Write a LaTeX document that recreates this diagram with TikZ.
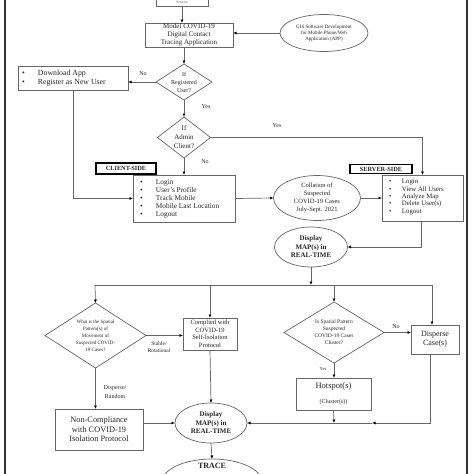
\documentclass[tikz,border=0pt]{standalone}
\usepackage{fontspec}
\setmainfont{Liberation Serif}
\usetikzlibrary{shapes.geometric,arrows.meta}
\newcommand{\fs}[2]{\fontsize{#1}{#2}\selectfont}
\newcommand{\bl}[1]{\makebox[#1][l]{\textbullet}}
\begin{document}
\begin{tikzpicture}[x=1pt,y=-1pt,
  every node/.style={inner sep=0pt, outer sep=0pt, text=black!85},
  box/.style={draw=black!60, line width=0.7pt, rectangle},
  dia/.style={draw=black!60, line width=0.7pt, diamond},
  ell/.style={draw=black!60, line width=0.7pt, ellipse},
  conn/.style={draw=black!60, line width=0.7pt},
  arr/.style={conn, -{Latex[length=3.5pt,width=3pt,color=black]}},
  lbl/.style={font=\fs{6}{7}, align=center},
  sidelbl/.style={draw=black, line width=1.5pt, font=\bfseries\fs{6.3}{7}, minimum height=10pt, inner xsep=3pt, fill=white}
]
\useasboundingbox (0,0) rectangle (474,474);
\clip (0,0) rectangle (474,474);
\fill[white] (0,0) rectangle (474,474);
% frame
\draw[black!80, line width=2pt] (5,-10) -- (5,490);
\draw[black!80, line width=2pt] (467,-10) -- (467,490);

% nodes
\node[box, minimum width=52, minimum height=20] (src) at (182,-4) {};
\node[font=\fs{4}{4}, text=black!60] (srct) at (182,2.6) {Source};
\node[box, minimum width=88, minimum height=24, align=center, font=\fs{7}{7.8}] (model) at (189,35) {Model COVID-19\\Digital Contact\\Tracing Application};
\node[ell, minimum width=88, minimum height=37, label={[align=center, font=\fs{5}{6}]center:GIS Software Development\\for Mobile Phone/Web\\Application (APP)}] (gis) at (324,33) {};
\node[dia, minimum width=56, minimum height=36, label={[align=center, font=\fs{6}{8}]center:If\\Registered\\User?}] (reg) at (184,82) {};
\node[box, minimum width=110, minimum height=24] (dl) at (73,78) {};
\node[anchor=west, align=left, font=\fs{7.8}{8.5}] (dlt) at (22,78) {\bl{16pt}Download App\\\bl{16pt}Register as New User};
\node[dia, minimum width=53, minimum height=41, label={[align=center, font=\fs{7}{9}]center:If\\Admin\\Client?}] (admin) at (184,137.5) {};
\node[box, minimum width=102, minimum height=47] (client) at (184,198.5) {};
\node[anchor=west, align=left, font=\fs{7.3}{8}] (clientt) at (140,199) {\bl{16pt}Login\\\bl{16pt}User's Profile\\\bl{16pt}Track Mobile\\\bl{16pt}Mobile Last Location\\\bl{16pt}Logout};
\node[sidelbl, minimum width=60pt, minimum height=11pt] (cs) at (126,168.5) {CLIENT-SIDE};
\node[ell, minimum width=87, minimum height=45, label={[align=center, font=\fs{6.5}{8}]center:Collation of\\Suspected\\COVID-19 Cases\\July-Sept. 2021}] (coll) at (317,198) {};
\node[box, minimum width=81, minimum height=46] (srv) at (422.5,198) {};
\node[anchor=west, align=left, font=\fs{6.8}{7.3}] (srvt) at (389,197) {\bl{13pt}Login\\\bl{13pt}View All Users\\\bl{13pt}Analyze Map\\\bl{13pt}Delete User(s)\\\bl{13pt}Logout};
\node[sidelbl, minimum width=62pt, minimum height=9pt] (ss) at (381,169) {SERVER-SIDE};
\node[ell, minimum width=73, minimum height=40, label={[align=center, font=\bfseries\fs{7}{8.5}]center:Display\\MAP(s) in\\REAL-TIME}] (disp1) at (311,247) {};

\node[dia, minimum width=101, minimum height=65, label={[align=center, font=\fs{5}{7}]center:What is the Spatial\\Pattern(s) of\\Movement of\\Suspected COVID-\\19 Cases?}] (what) at (95.5,335.5) {};
\node[box, minimum width=54, minimum height=32, align=center, font=\fs{6.5}{7.5}] (comp) at (210,334) {Complied with\\COVID-19\\Self-Isolation\\Protocol};
\node[box, minimum width=88, minimum height=41, align=center, font=\fs{8.3}{9.5}] (nonc) at (99,429.5) {Non-Compliance\\with COVID-19\\Isolation Protocol};
\node[ell, minimum width=72, minimum height=40, label={[align=center, font=\bfseries\fs{7}{8.5}]center:Display\\MAP(s) in\\REAL-TIME}] (disp2) at (211,423) {};
\node[ell, minimum width=100, minimum height=46] (trace) at (212,482) {};
\node[font=\bfseries\fs{8}{9}] (tracet) at (212,466) {TRACE};
\node[dia, minimum width=100, minimum height=61, label={[align=center, font=\fs{5.5}{7}]center:Is Spatial Pattern\\Suspected\\COVID-19 Cases\\Cluster?}] (spat) at (334,332.5) {};
\node[box, minimum width=48, minimum height=29, align=center, font=\fs{8}{9}] (disp) at (435,339.5) {Disperse\\Case(s)};
\node[box, minimum width=75, minimum height=32, align=center] (hot) at (333.5,394) {{\fs{8.5}{9}Hotspot(s)}\\[3pt]{\fs{6}{7}(Cluster(s))}};

% coordinates
\coordinate (busL) at (95,285);
\coordinate (busR) at (432,285);
\coordinate (j1) at (334,423);
\coordinate (j2) at (372,423);

% connectors
\draw[arr] (src.south) -- (src.south |- model.north);
\draw[arr] (gis.west) -- (gis.west -| model.east);
\draw[arr] (reg.north |- model.south) -- (reg.north);
\draw[arr] (reg.west) -- (reg.west -| dl.east);
\draw[arr] (dl.south) |- (client.west);
\draw[arr] (reg.south) -- (admin.north);
\draw[arr] (admin.east) -| (srv.north);
\draw[arr] (admin.south) -- (admin.south |- client.north);
\draw[arr] (client.east) -- (coll.west);
\draw[arr] (coll.east) -- (srv.west);
\draw[arr] ([xshift=-1pt]srv.south) |- (disp1.east);
\draw[conn] (busL) -- (busR);
\draw[arr] (disp1.south) -- (disp1.south |- busL);
\draw[arr] (busL) -- (what.north);
\draw[arr] (comp.north |- busL) -- (comp.north);
\draw[arr] (spat.north |- busL) -- (spat.north);
\draw[arr] (busR) -- (busR |- disp.north);
\draw[arr] (what.east) -- (what.east -| comp.west);
\draw[arr] (what.south) -- (what.south |- nonc.north);
\draw[arr] (disp2.west -| nonc.east) -- (disp2.west);
\draw[arr] (comp.south) -- (disp2.north);
\draw[arr] (disp2.south) -- (trace.north);
\draw[arr] (spat.east) -- (spat.east -| disp.west);
\draw[arr] (spat.south) -- (spat.south |- hot.north);
\draw[arr] (hot.south) -- (j1);
\draw[arr] ([xshift=-5pt]disp.south) |- (j2);
\draw[conn] (j2) -- (j1);
\draw[arr] (j1) -- (disp2.east);

% labels
\node[lbl] (lno1) at (143,74) {No};
\node[lbl] (lyes1) at (206,107) {Yes};
\node[lbl] (lyes2) at (277,126) {Yes};
\node[lbl] (lno2) at (205,162) {No};
\node[lbl, font=\fs{5.5}{7}] (lstab) at (159,347.5) {Stable/\\Rotational};
\node[lbl, font=\fs{6}{9.5}] (ldisp) at (115,392) {Disperse/\\Random};
\node[lbl] (lno3) at (396,327) {No};
\node[lbl, font=\fs{4.5}{5}] (lyes3) at (323,369) {Yes};
\end{tikzpicture}
\end{document}
